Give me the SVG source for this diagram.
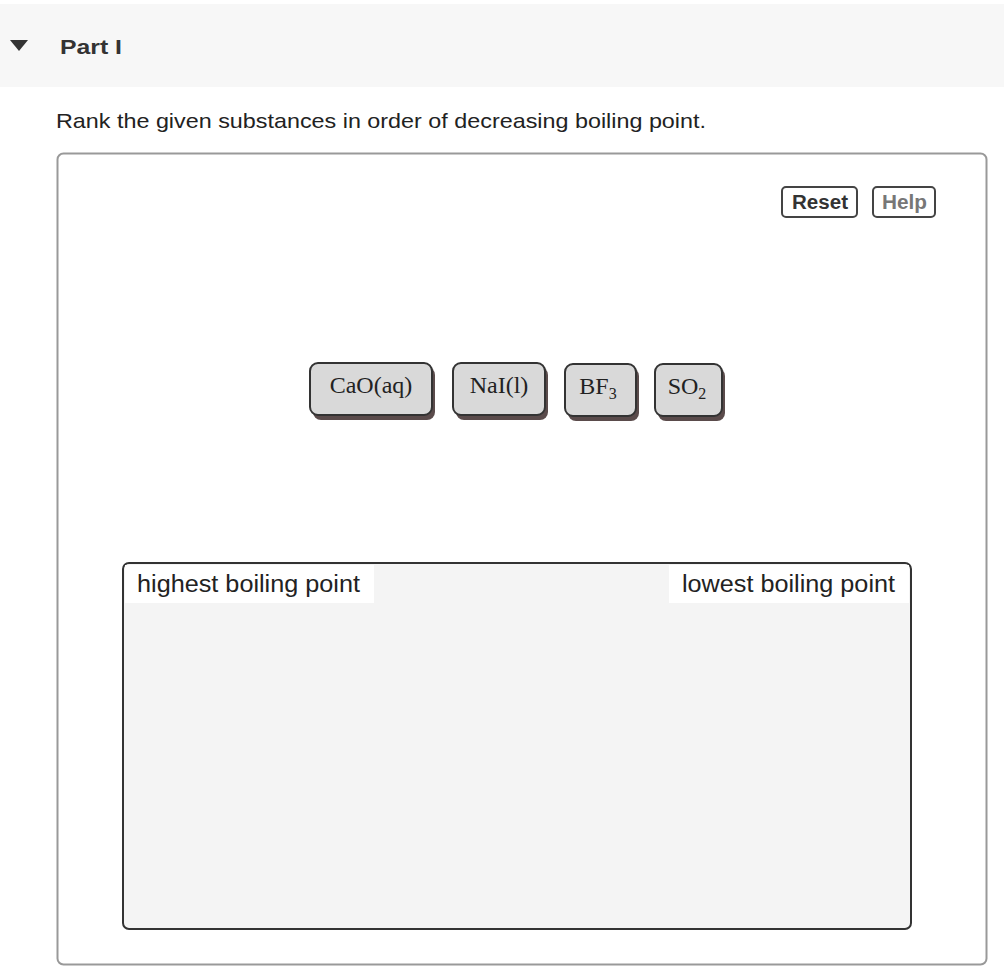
<svg xmlns="http://www.w3.org/2000/svg" width="1004" height="974" viewBox="0 0 1004 974">
<style>
.sans{font-family:"Liberation Sans",Arial,sans-serif;}
.chip rect.b{fill:#d9d9d9;stroke:#333;stroke-width:2;}
.chip rect.s{fill:#5a4b4b;}
.chip text{font-family:"Liberation Serif","Times New Roman",serif;font-size:24px;fill:#222;text-anchor:middle;}
.btn rect{fill:#fff;stroke:#444;stroke-width:2;}
.btn text{font-family:"Liberation Sans",Arial,sans-serif;font-size:20px;font-weight:bold;}
</style>
<rect width="1004" height="974" fill="#fff"/>
<g id="header">
<rect x="0" y="4" width="1004" height="83" fill="#f7f7f7"/>
<polygon points="10,40 28,40 19,51" fill="#333"/>
<text class="sans" x="60" y="54" font-size="21" font-weight="bold" fill="#333" textLength="62" lengthAdjust="spacingAndGlyphs">Part I</text>
</g>
<text class="sans" x="56" y="128" font-size="21" fill="#222" textLength="650" lengthAdjust="spacingAndGlyphs">Rank the given substances in order of decreasing boiling point.</text>
<g id="panel"><rect x="57.5" y="153.5" width="929" height="811" rx="6" fill="#fff" stroke="#999" stroke-width="2"/></g>
<g id="reset" class="btn"><rect x="782" y="187" width="75" height="30" rx="4"/><text x="792" y="209" fill="#333" textLength="56" lengthAdjust="spacingAndGlyphs">Reset</text></g>
<g id="help" class="btn"><rect x="873" y="187" width="62" height="30" rx="4"/><text x="882" y="209" fill="#777" textLength="45" lengthAdjust="spacingAndGlyphs">Help</text></g>
<g id="cao" class="chip"><rect class="s" x="313" y="367" width="122" height="53" rx="8"/><rect class="b" x="310" y="363" width="122" height="52" rx="8"/><text x="371" y="393">CaO(aq)</text></g>
<g id="nai" class="chip"><rect class="s" x="456" y="367" width="92" height="53" rx="8"/><rect class="b" x="453" y="363" width="92" height="52" rx="8"/><text x="499" y="393">NaI(l)</text></g>
<g id="bf3" class="chip"><rect class="s" x="568" y="368" width="71" height="53" rx="8"/><rect class="b" x="565" y="364" width="71" height="52" rx="8"/><text x="598" y="394">BF<tspan font-size="16" dy="5">3</tspan></text></g>
<g id="so2" class="chip"><rect class="s" x="658" y="368" width="67" height="53" rx="8"/><rect class="b" x="655" y="364" width="67" height="52" rx="8"/><text x="687" y="394">SO<tspan font-size="16" dy="5">2</tspan></text></g>
<g id="target">
<rect x="123" y="563" width="788" height="366" rx="6" fill="#f4f4f4" stroke="#333" stroke-width="2"/>
<rect x="125" y="565" width="249" height="38" fill="#fff"/>
<rect x="669" y="565" width="240" height="38" fill="#fff"/>
<text class="sans" x="137" y="592" font-size="23" fill="#222" textLength="223" lengthAdjust="spacingAndGlyphs">highest boiling point</text>
<text class="sans" x="682" y="592" font-size="23" fill="#222" textLength="213" lengthAdjust="spacingAndGlyphs">lowest boiling point</text>
</g>
<g id="connectors"/>
</svg>
